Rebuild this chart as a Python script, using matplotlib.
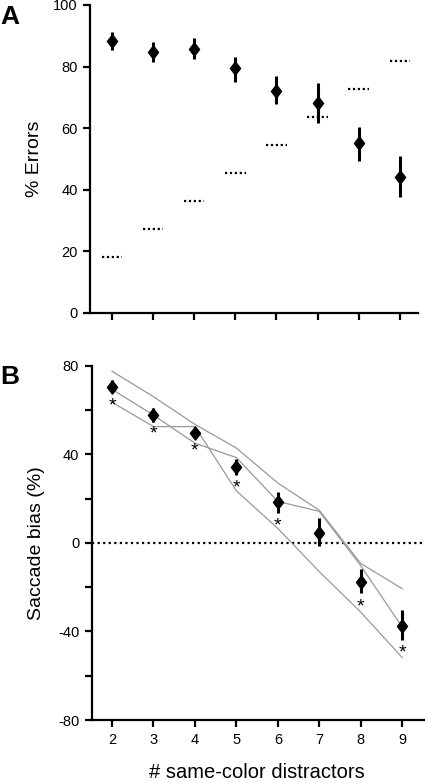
import numpy as np
import matplotlib
matplotlib.use('Agg')
import matplotlib.pyplot as plt
import matplotlib.transforms as mtransforms
from matplotlib.path import Path

plt.rcParams['font.family'] = ['Liberation Sans', 'DejaVu Sans']

# number of same-color distractors
n_distr = [2, 3, 4, 5, 6, 7, 8, 9]

# panel A: % errors (mean and error bar ends), chance level
err_mean = [88.3, 84.9, 85.7, 79.5, 72.2, 68.3, 55.1, 44.3]
err_hi = [91.1, 88.1, 89.2, 83.2, 77.0, 74.6, 60.3, 51.1]
err_lo = [85.4, 81.4, 82.5, 75.1, 67.8, 61.8, 49.2, 37.6]
chance = [18.2, 27.3, 36.4, 45.5, 54.5, 63.6, 72.7, 81.8]

# panel B: saccade bias
bias_mean = [70.5, 57.7, 49.5, 34.2, 18.3, 4.5, -17.5, -37.5]
bias_hi = [73.5, 61.0, 52.5, 37.8, 22.8, 11.3, -11.7, -30.3]
bias_lo = [67.6, 54.7, 48.0, 30.7, 13.5, -1.5, -22.8, -43.8]
star_x = [2, 3, 4, 5, 6, 8, 9]
star_y = [64.0, 51.0, 43.5, 26.7, 9.7, -26.7, -47.7]
# individual subjects
subj1 = [77.5, 66.0, 53.5, 42.8, 27.0, 14.7, -9.3, -20.7]
subj2 = [69.3, 57.7, 45.0, 38.5, 18.7, 14.2, -10.3, -38.0]
subj3 = [63.5, 52.5, 52.5, 23.5, 6.5, -13.0, -31.3, -51.8]

W, H = 425, 783
fig = plt.figure(figsize=(W / 100, H / 100), dpi=100)

# tall diamond marker
diamond = Path([(0, 1), (0.77, 0), (0, -1), (-0.77, 0), (0, 1)],
               [Path.MOVETO, Path.LINETO, Path.LINETO, Path.LINETO, Path.CLOSEPOLY])


def style(ax):
    for s in ['top', 'right']:
        ax.spines[s].set_visible(False)
    for s in ['left', 'bottom']:
        ax.spines[s].set_linewidth(1.6)
    ax.tick_params(direction='out', length=5, width=1.6, labelsize=10.5, pad=4)


def errbars(ax, x, m, lo, hi):
    m = np.array(m)
    yerr = [m - np.array(lo), np.array(hi) - m]
    ax.errorbar(x, m, yerr=yerr, fmt='none', ecolor='black', elinewidth=2.2, capsize=0, zorder=3)
    ax.plot(x, m, linestyle='none', marker=diamond, markersize=9.5, color='black', zorder=4)


# ---- panel A
axA = fig.add_axes([90 / W, 1 - 313 / H, 328 / W, 308 / H])
style(axA)
axA.set_xlim(1.47, 9.44)
axA.set_ylim(0, 100)
axA.set_yticks([0, 20, 40, 60, 80, 100])
axA.set_xticks(n_distr)
axA.set_xticklabels([])
axA.hlines(chance, np.array(n_distr) - 0.25, np.array(n_distr) + 0.25,
           colors='black', linestyles=(0, (1, 1.2)), linewidth=1.6, zorder=2)
errbars(axA, n_distr, err_mean, err_lo, err_hi)
axA.set_ylabel('% Errors', fontsize=14)
axA.yaxis.set_label_coords(-0.143, 0.5)
fig.text(10 / W, 1 - 17.5 / H, 'A', fontsize=19, fontweight='bold', ha='center', va='center')

# ---- panel B
axB = fig.add_axes([91.7 / W, 1 - 720 / H, 333.3 / W, 354.3 / H])
style(axB)
axB.set_xlim(1.51, 9.55)
axB.set_ylim(-80, 80)
axB.set_yticks([-80, -60, -40, -20, 0, 20, 40, 60, 80])
axB.set_yticklabels(['-80', '', '-40', '', '0', '', '40', '', '80'])
axB.set_xticks(n_distr)
axB.axhline(0, color='black', linestyle=(0, (1, 1.5)), linewidth=1.6, zorder=1)
for s in [subj1, subj2, subj3]:
    axB.plot(n_distr, s, color='#999999', linewidth=0.9, zorder=2)
errbars(axB, n_distr, bias_mean, bias_lo, bias_hi)
# asterisk glyph sits high above the baseline, so shift the anchor down
star_tr = mtransforms.offset_copy(axB.transData, fig=fig, y=-6.5, units='points')
for x, y in zip(star_x, star_y):
    axB.text(x, y, '*', fontsize=14, ha='center', va='baseline', transform=star_tr, zorder=5)
axB.set_ylabel('Saccade bias (%)', fontsize=14)
axB.yaxis.set_label_coords(-0.14, 0.5)
axB.set_xlabel('# same-color distractors', fontsize=14.5)
axB.xaxis.set_label_coords(0.497, -0.12)
fig.text(10 / W, 1 - 377.5 / H, 'B', fontsize=19, fontweight='bold', ha='center', va='center')

fig.savefig('out.png', dpi=100)
